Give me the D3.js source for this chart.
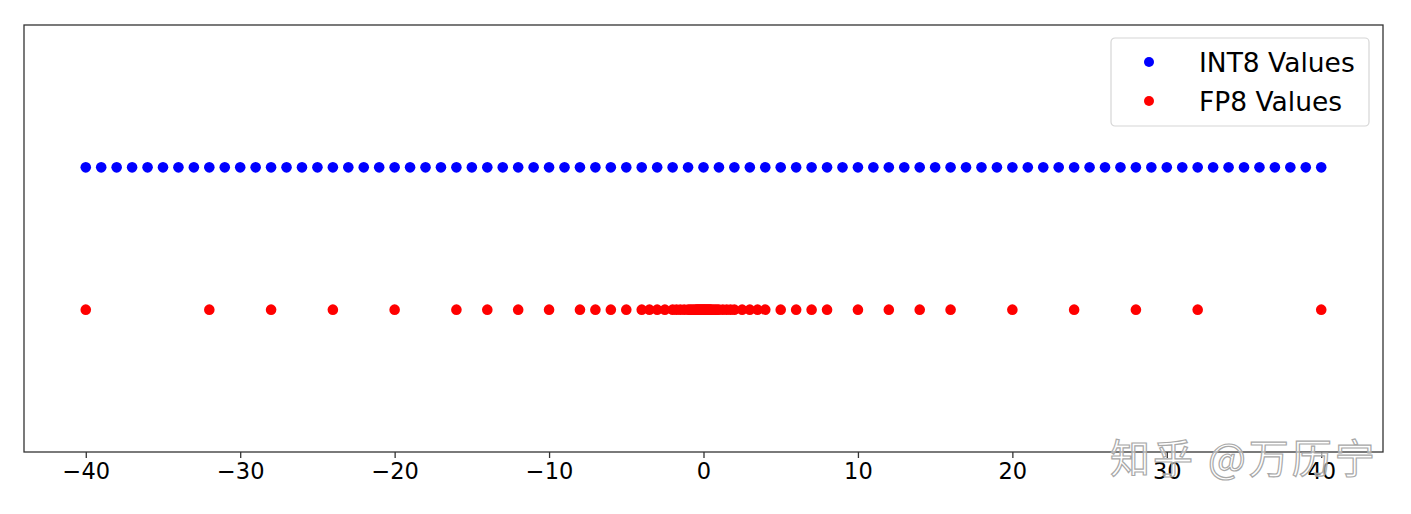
<!DOCTYPE html>
<html>
<head>
<meta charset="utf-8">
<script src="https://cdn.jsdelivr.net/npm/d3@7"></script>
<style>
  body { margin: 0; background: #fff; }
  svg { display: block; font-family: "DejaVu Sans", sans-serif; }
</style>
</head>
<body>
<div id="chart"></div>
<script>
// INT8: every integer step from -40 to 40
const int8Values = [
  -40, -39, -38, -37, -36, -35, -34, -33, -32, -31, -30, -29, -28, -27, -26, -25, -24, -23, -22, -21,
  -20, -19, -18, -17, -16, -15, -14, -13, -12, -11, -10, -9, -8, -7, -6, -5, -4, -3, -2, -1,
  0, 1, 2, 3, 4, 5, 6, 7, 8, 9, 10, 11, 12, 13, 14, 15, 16, 17, 18, 19, 20,
  21, 22, 23, 24, 25, 26, 27, 28, 29, 30, 31, 32, 33, 34, 35, 36, 37, 38, 39, 40
];

// FP8 values, dense around zero
const fp8Values = [
  -40, -32, -28, -24, -20, -16, -14, -12, -10, -8, -7, -6, -5, -4,
  -3.5, -3, -2.5, -2, -1.75, -1.5, -1.25, -1, -0.875, -0.75, -0.625, -0.5,
  -0.4375, -0.375, -0.3125, -0.25, -0.1875, -0.125, -0.0625, 0,
  0.0625, 0.125, 0.1875, 0.25, 0.3125, 0.375, 0.4375,
  0.5, 0.625, 0.75, 0.875, 1, 1.25, 1.5, 1.75, 2, 2.5, 3, 3.5,
  4, 5, 6, 7, 8, 10, 12, 14, 16, 20, 24, 28, 32, 40
];

const seriesNames = ['INT8 Values', 'FP8 Values'];
const seriesColors = ['#0000ff', '#ff0000'];
const seriesRows = [1, 0];
const xTicks = [-40, -30, -20, -10, 0, 10, 20, 30, 40];

const width = 1411;
const height = 514;
const margin = { top: 25, right: 28, bottom: 62, left: 24 };

const x = d3.scaleLinear()
  .domain([-44, 44])
  .range([margin.left, width - margin.right]);

const y = d3.scaleLinear()
  .domain([-1, 2])
  .range([height - margin.bottom, margin.top]);

const svg = d3.select('#chart').append('svg')
  .attr('width', width)
  .attr('height', height);

// points
[int8Values, fp8Values].forEach((vals, i) => {
  svg.append('g')
    .selectAll('circle')
    .data(vals)
    .enter().append('circle')
    .attr('cx', d => x(d))
    .attr('cy', y(seriesRows[i]))
    .attr('r', 5.3)
    .attr('fill', seriesColors[i]);
});

// frame
svg.append('rect')
  .attr('x', margin.left)
  .attr('y', margin.top)
  .attr('width', width - margin.left - margin.right)
  .attr('height', height - margin.top - margin.bottom)
  .attr('fill', 'none')
  .attr('stroke', '#333')
  .attr('stroke-width', 1.3);

// x axis
const xAxis = d3.axisBottom(x)
  .tickValues(xTicks)
  .tickSize(6)
  .tickPadding(5)
  .tickFormat(d => (d < 0 ? '\u2212' + Math.abs(d) : `${d}`));

const ax = svg.append('g')
  .attr('transform', `translate(0,${height - margin.bottom})`)
  .call(xAxis);
ax.select('.domain').remove();
ax.selectAll('line').attr('stroke', '#333').attr('stroke-width', 1.3);
ax.selectAll('text')
  .attr('fill', '#000')
  .style('font-family', '"DejaVu Sans", sans-serif')
  .style('font-size', '22.5px');

// legend
const lg = svg.append('g').attr('transform', 'translate(1111,38)');
lg.append('rect')
  .attr('width', 258)
  .attr('height', 88)
  .attr('rx', 4)
  .attr('fill', 'rgba(255,255,255,0.8)')
  .attr('stroke', '#d6d6d6')
  .attr('stroke-width', 1.2);

seriesNames.forEach((name, i) => {
  const row = lg.append('g').attr('transform', `translate(0,${24 + i * 39})`);
  row.append('circle')
    .attr('cx', 38)
    .attr('cy', 0)
    .attr('r', 5)
    .attr('fill', seriesColors[i]);
  row.append('text')
    .attr('x', 88)
    .attr('y', 0)
    .attr('dy', '0.36em')
    .style('font-size', '26.5px')
    .attr('fill', '#000')
    .text(name);
});

// watermark
svg.append('text')
  .attr('x', 1110)
  .attr('y', 473)
  .style('font-family', '"Noto Sans CJK SC", sans-serif')
  .style('font-size', '40px')
  .style('letter-spacing', '3px')
  .attr('fill', 'rgba(255,255,255,0.55)')
  .attr('stroke', '#a8a8a8')
  .attr('stroke-width', 1.2)
  .text('知乎 @万历宁');
</script>
</body>
</html>
